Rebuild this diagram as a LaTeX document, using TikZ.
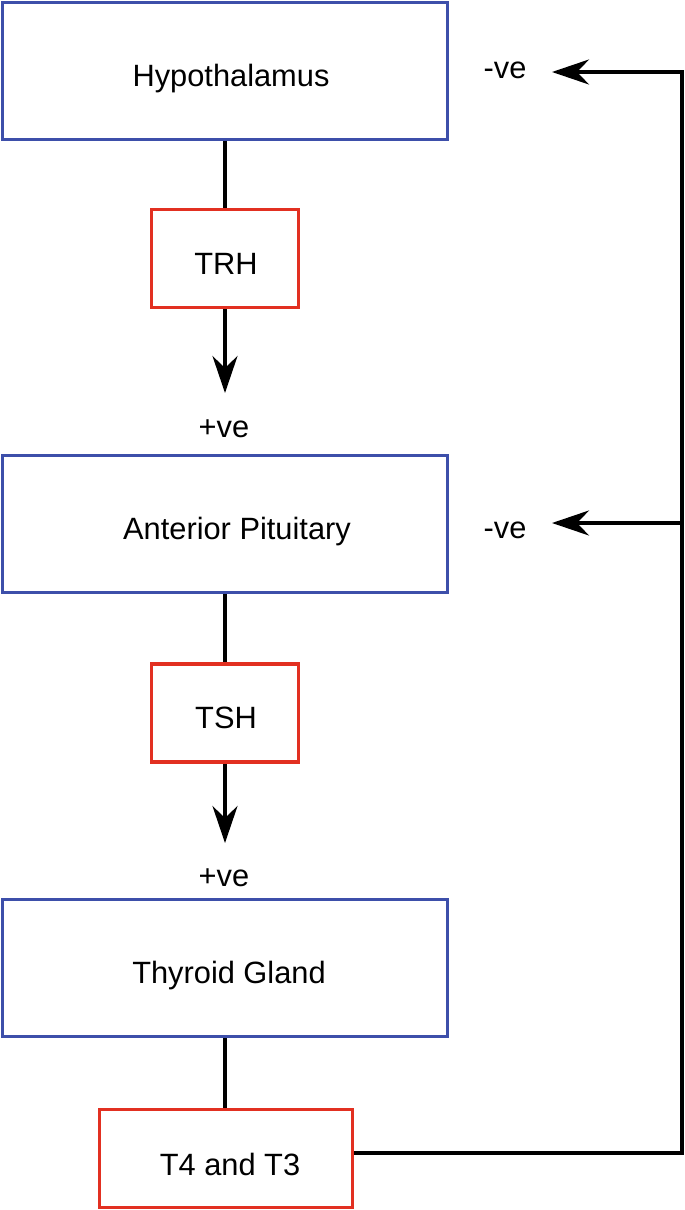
\documentclass[tikz,border=0pt]{standalone}
\usepackage{fontspec}
\setmainfont{Liberation Sans}
\usetikzlibrary{arrows.meta}
\definecolor{boxblue}{RGB}{61,79,170}
\definecolor{boxred}{RGB}{226,48,33}
\begin{document}
\begin{tikzpicture}[x=1pt,y=-1pt,
  bluebox/.style={draw=boxblue,line width=3.6pt,rectangle,inner sep=0pt,minimum width=445pt,minimum height=137pt},
  redbox/.style={draw=boxred,line width=3.6pt,rectangle,inner sep=0pt,minimum width=147pt,minimum height=98pt},
  lbl/.style={font=\fontsize{30.8}{36}\selectfont,anchor=base,inner sep=0pt},
  conn/.style={line width=3.6pt,black},
  arr/.style={conn,-{Stealth[length=37pt,width=25pt,inset=12pt]}}]
\useasboundingbox (0,0) rectangle (685,1210);
% boxes
\node[bluebox] (hyp) at (225,71) {};
\node[redbox] (trh) at (225,258.5) {};
\node[bluebox] (ap) at (225,524) {};
\node[redbox] (tsh) at (225,713) {};
\node[bluebox] (thy) at (225,968) {};
\node[redbox,minimum width=253pt] (t4) at (226,1158.5) {};
% texts
\node[lbl] (thyp) at (231,86) {Hypothalamus};
\node[lbl] (ttrh) at (226,274) {TRH};
\node[lbl] (pv1) at (224,437) {+ve};
\node[lbl] (tap) at (237,539) {Anterior Pituitary};
\node[lbl] (ttsh) at (226,728) {TSH};
\node[lbl] (pv2) at (224,886) {+ve};
\node[lbl] (tthy) at (229,983) {Thyroid Gland};
\node[lbl] (tt4) at (230,1175) {T4 and T3};
\node[lbl] (nv1) at (505,78) {-ve};
\node[lbl] (nv2) at (505,538) {-ve};
% coordinates
\coordinate (tip1) at (225,393);
\coordinate (tip2) at (225,843);
\coordinate (rb) at (682,1153);
\coordinate (rt) at (682,72);
\coordinate (rm) at (682,523);
\coordinate (tip3) at (552,72);
\coordinate (tip4) at (552,523);
% connectors
\draw[conn] (hyp.south) -- (trh.north);
\draw[arr] (trh.south) -- (tip1);
\draw[conn] (ap.south) -- (tsh.north);
\draw[arr] (tsh.south) -- (tip2);
\draw[conn] (thy.south) -- (thy.south |- t4.north);
\draw[arr,line join=miter] ([yshift=5.5pt]t4.east) -- (rb) -- (rt) -- (tip3);
\draw[arr] (rm) -- (tip4);
\end{tikzpicture}
\end{document}
